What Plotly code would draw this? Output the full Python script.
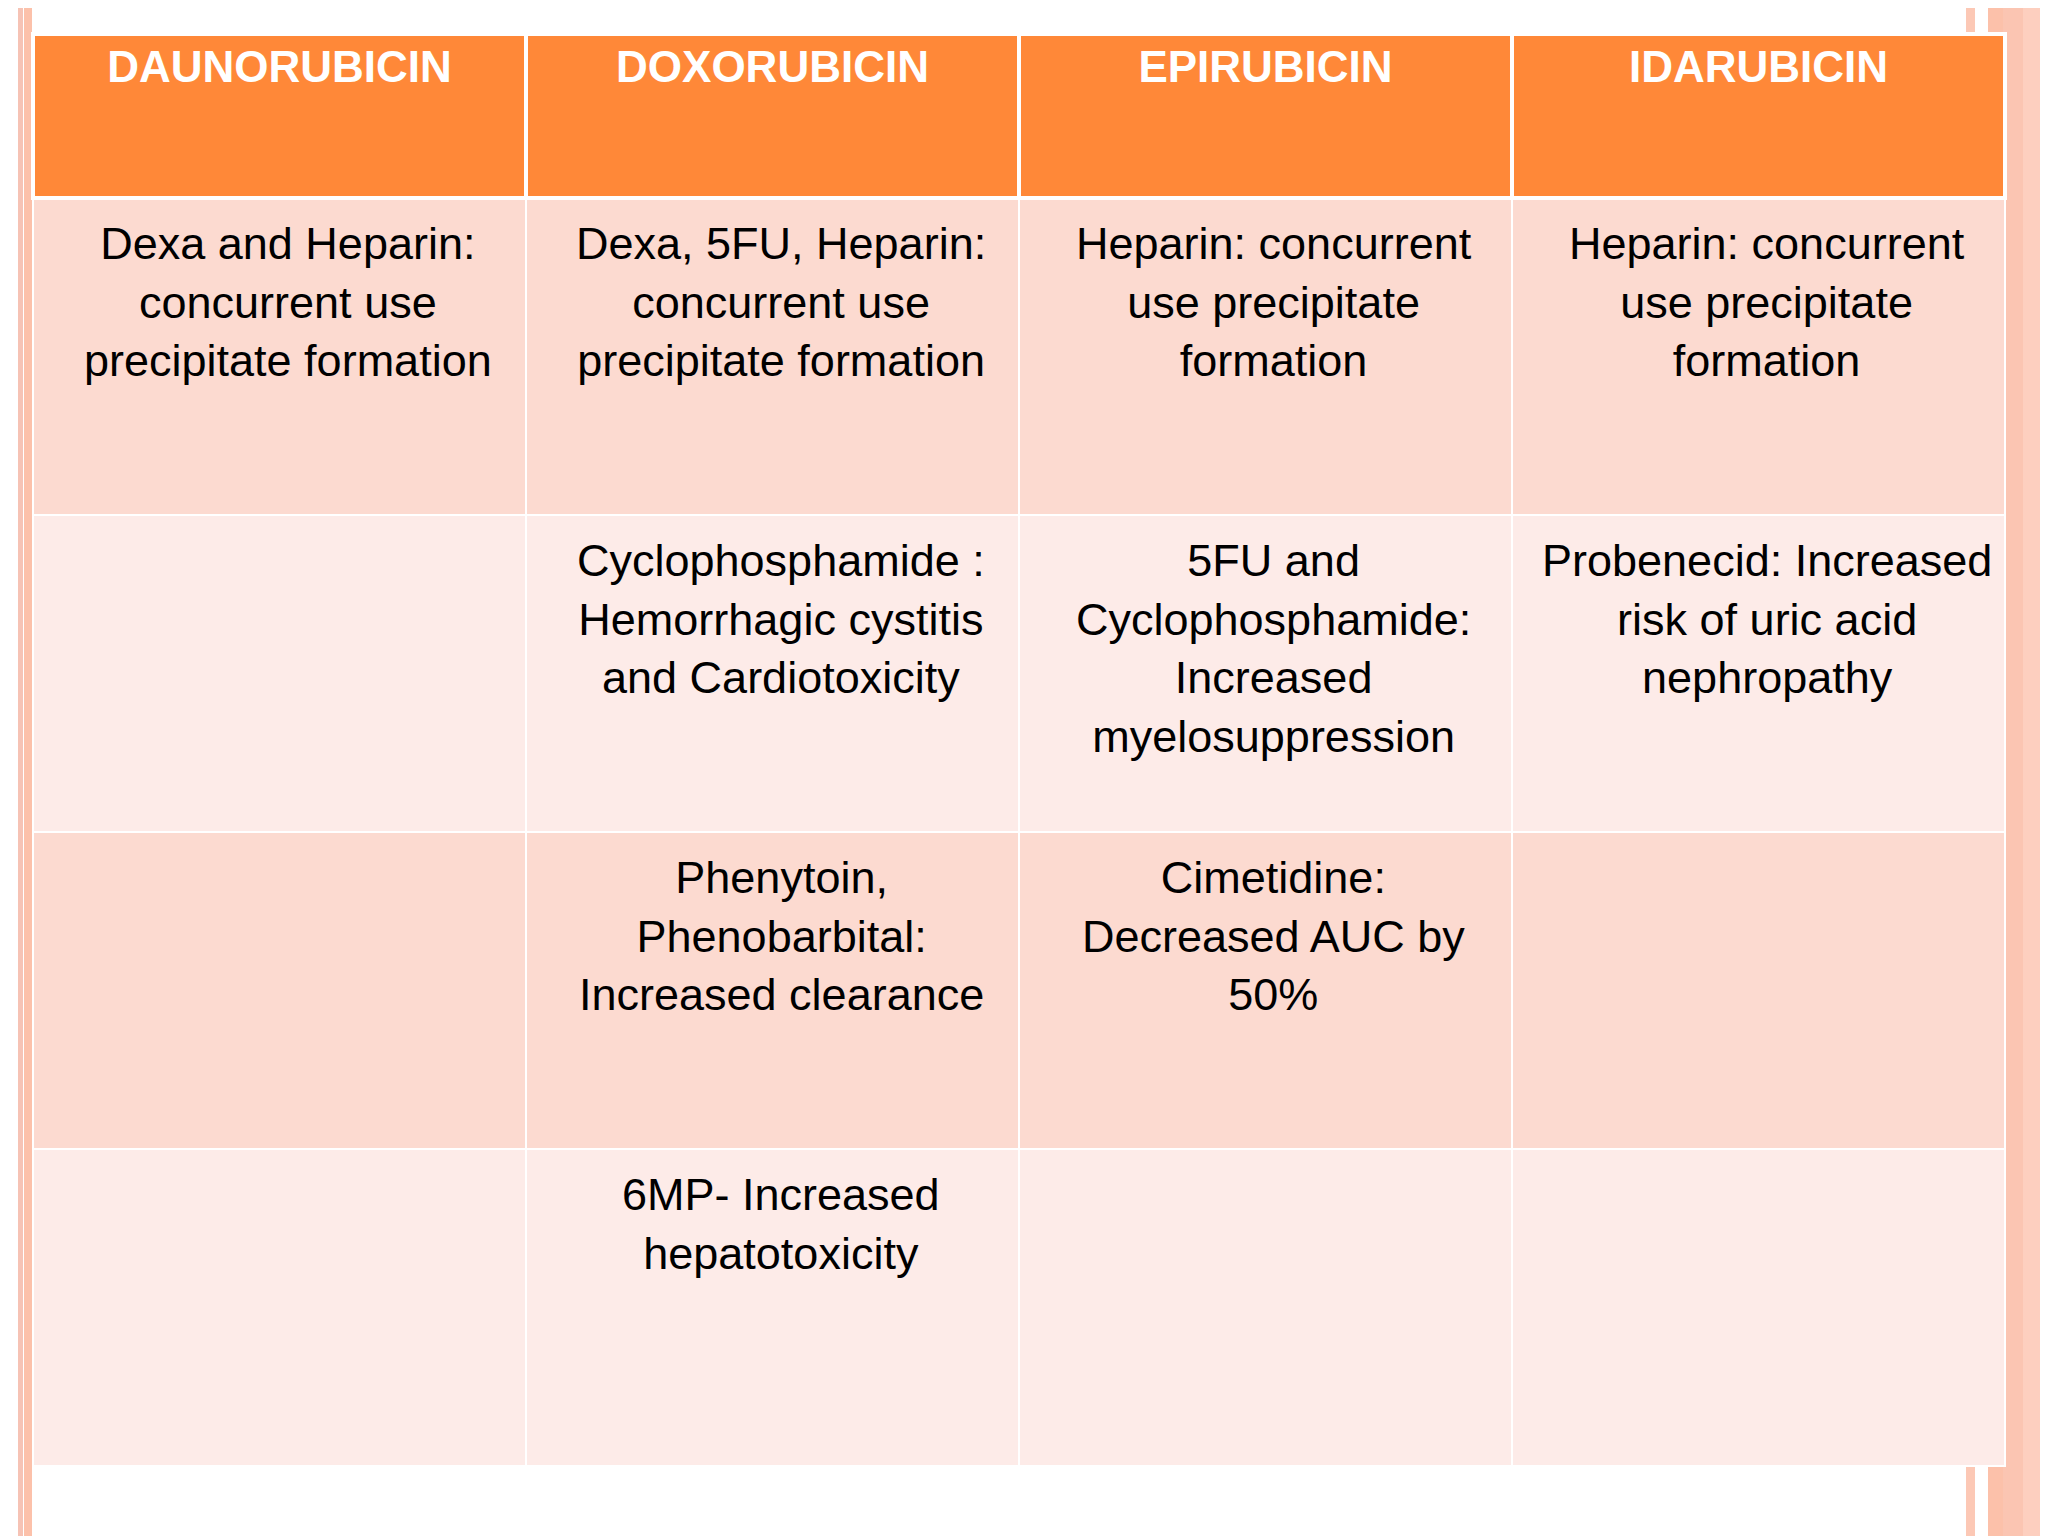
import plotly.graph_objects as go

drugs = ["DAUNORUBICIN", "DOXORUBICIN", "EPIRUBICIN", "IDARUBICIN"]
daunorubicin = ["Dexa and Heparin:<br>concurrent use<br>precipitate formation", "", "", ""]
doxorubicin = ["Dexa, 5FU, Heparin:<br>concurrent use<br>precipitate formation",
               "Cyclophosphamide :<br>Hemorrhagic cystitis<br>and Cardiotoxicity",
               "Phenytoin,<br>Phenobarbital:<br>Increased clearance",
               "6MP- Increased<br>hepatotoxicity"]
epirubicin = ["Heparin: concurrent<br>use precipitate<br>formation",
              "5FU and<br>Cyclophosphamide:<br>Increased<br>myelosuppression",
              "Cimetidine:<br>Decreased AUC by<br>50%", ""]
idarubicin = ["Heparin: concurrent<br>use precipitate<br>formation",
              "Probenecid: Increased<br>risk of uric acid<br>nephropathy", "", ""]
columns = [daunorubicin, doxorubicin, epirubicin, idarubicin]

W, H = 2048, 1536
row_fill = ["#FCDAD0", "#FDEBE8", "#FCDAD0", "#FDEBE8"]
left, right, top = 34, 2005, 35      # rendered table edges, px
header_h, cell_h = 161, 317

fig = go.Figure(go.Table(
    domain=dict(x=[(left - 9) / W, (right - 8) / W], y=[0, 1 - (top - 9) / H]),
    columnwidth=[1, 1, 1, 1],
    header=dict(values=[f"<b>{d}</b>" for d in drugs], fill_color="#FF8838",
                line=dict(color="white", width=4), align="center", height=header_h + 3,
                font=dict(family="Liberation Sans", size=44, color="white")),
    cells=dict(values=[[""] * 4] * 4,
               fill_color=[row_fill] * 4, line=dict(color="white", width=2),
               align="center", height=cell_h,
               font=dict(family="Liberation Sans", size=44, color="black")),
))

# cell text as annotations so each line is centred
col_w = (right - left) / len(columns)
annotations = []
for i, col in enumerate(columns):
    for j, txt in enumerate(col):
        if not txt:
            continue
        annotations.append(dict(
            text=txt, xref="paper", yref="paper", showarrow=False,
            x=(left + (i + 0.5) * col_w) / W,
            y=1 - (top + header_h + j * cell_h + 12) / H,
            xanchor="center", yanchor="top", align="center",
            font=dict(family="Liberation Sans", size=45, color="black")))

# decorative stripes at slide edges
stripes = [(10, 15, "#F6C3B5"), (16, 24, "#FCC1AA"),
           (1958, 1967, "#FCC8B5"), (1980, 1995, "#FCC1AA"),
           (1995, 2015, "#FBC5B2"), (2015, 2048, "#FDCFBF")]
shapes = [dict(type="rect", xref="paper", yref="paper", x0=a / W, x1=b / W, y0=0, y1=1,
               fillcolor=c, line=dict(width=0), layer="below") for a, b, c in stripes]

fig.update_layout(width=W, height=H, margin=dict(l=0, r=0, t=0, b=0),
                  paper_bgcolor="white", shapes=shapes, annotations=annotations)
fig.write_html("out.html")
